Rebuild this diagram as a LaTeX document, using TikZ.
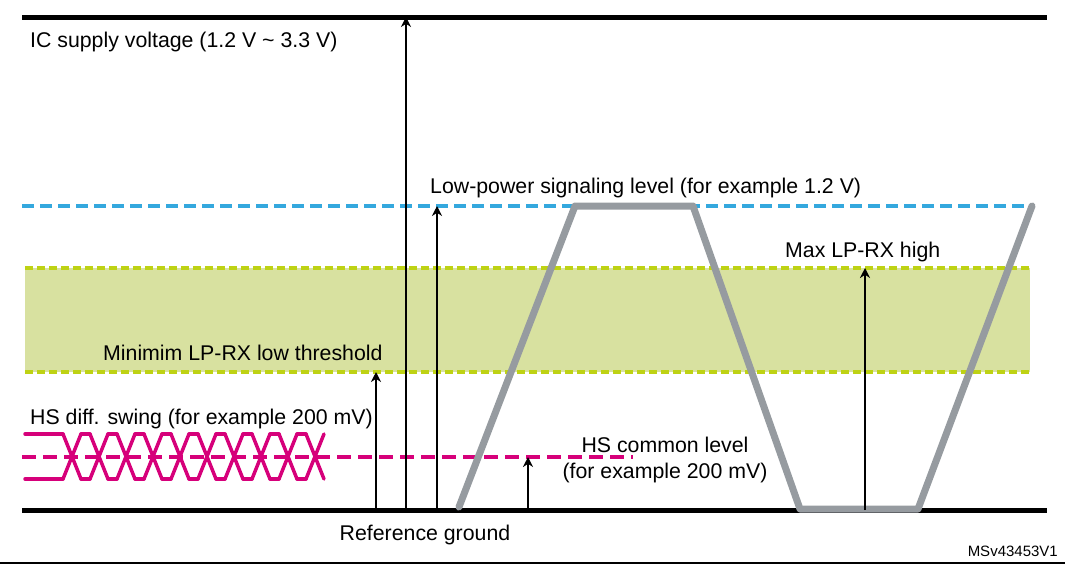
\documentclass[tikz,border=0pt]{standalone}
\usepackage{fontspec}
\setmainfont{Liberation Sans}
\usetikzlibrary{arrows.meta}
\definecolor{lpblue}{RGB}{52,168,222}
\definecolor{bandfill}{RGB}{216,225,160}
\definecolor{bandedge}{RGB}{190,210,20}
\definecolor{hsmag}{RGB}{214,0,122}
\definecolor{sig}{RGB}{150,155,160}
\begin{document}
\begin{tikzpicture}[x=1pt,y=-1pt,
  lbl/.style={font=\fontsize{21.3}{24}\selectfont,inner sep=0pt},
  rail/.style={line width=5pt,black},
  arr/.style={line width=2.8pt,-{Stealth[length=10pt,width=10pt]}},
  hs/.style={hsmag,line width=3.5pt,line join=round,line cap=round}]
\useasboundingbox (0,0) rectangle (1065,566);
% band
\fill[bandfill] (25,268) rectangle (1030,372);
\draw[bandedge,line width=4pt,dash pattern=on 8pt off 4pt] (25,268) -- (1030,268) (25,372) -- (1030,372);
% blue dashed
\draw[lpblue,line width=4.5pt,dash pattern=on 12pt off 6pt] (22,206) -- (1032,206);
% HS swing
\draw[hs,line cap=butt,dash pattern=on 14pt off 7pt] (22,457) -- (633,457);
\draw[hs] (25,434) -- (63,434) (25,479) -- (63,479);
\foreach \i in {0,...,9}{
  \pgfmathsetmacro{\c}{72+27*\i}
  \pgfmathsetmacro{\ya}{mod(\i,2)==0 ? 434 : 479}
  \pgfmathsetmacro{\yb}{mod(\i,2)==0 ? 479 : 434}
  \draw[hs] (\c-9,\ya) -- (\c+9,\yb);
  \draw[hs] (\c-9,\yb) -- (\c+9,\ya);
  \ifnum\i<9
    \draw[hs] (\c+9,\ya) -- (\c+18,\ya) (\c+9,\yb) -- (\c+18,\yb);
  \fi
}
% rails
\draw[rail] (22,17) -- (1047,17);
\draw[rail] (22,510) -- (1047,510);
\draw[line width=2.5pt] (0,563) -- (1065,563);
% signal
\draw[sig,line width=7pt,line join=round,line cap=round] (459,507) -- (575,206) -- (693,206) -- (800,509) -- (918,509) -- (1032,206);
% arrows
\coordinate (g1) at (406,510); \coordinate (t1) at (406,17);
\coordinate (g2) at (437,510); \coordinate (t2) at (437,206);
\coordinate (g3) at (376,510); \coordinate (t3) at (376,372);
\coordinate (g4) at (528,510); \coordinate (t4) at (528,457);
\coordinate (g5) at (865,510); \coordinate (t5) at (865,268);
\foreach \n in {1,...,5}{\draw[arr] (g\n) -- (t\n);}
% labels
\node[lbl,anchor=base west] (ic) at (30,47) {IC supply voltage (1.2 V \textasciitilde{} 3.3 V)};
\node[lbl,anchor=base west] (lp) at (430,193) {Low-power signaling level (for example 1.2 V)};
\node[lbl,anchor=base west] (mx) at (785,257) {Max LP-RX high};
\node[lbl,anchor=base west] (mn) at (103,360) {Minimim LP-RX low threshold};
\node[lbl,anchor=base west] (hsd) at (30,424) {HS diff. swing (for example 200 mV)};
\node[lbl,anchor=base] (hsc) at (665,452) {HS common level};
\node[lbl,anchor=base] (hsc2) at (665,478) {(for example 200 mV)};
\node[lbl,anchor=base] (rg) at (425,540) {Reference ground};
\node[inner sep=0pt,anchor=base east,font=\fontsize{15}{17}\selectfont] (ms) at (1058,556) {MSv43453V1};
\end{tikzpicture}
\end{document}
